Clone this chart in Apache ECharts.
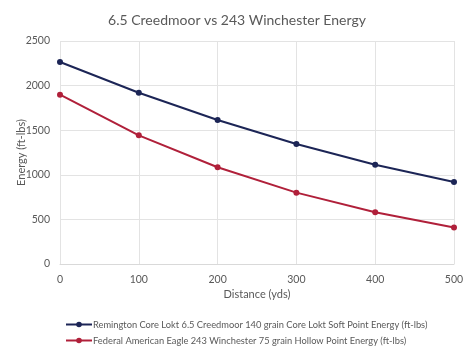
<!DOCTYPE html>
<html>
<head>
<meta charset="utf-8">
<script src="https://cdn.jsdelivr.net/npm/echarts@6/dist/echarts.min.js"></script>
<style>html,body{margin:0;padding:0;background:#fff}#c{width:474px;height:355px}</style>
</head>
<body>
<div id="c"></div>
<script>
const distances = [0, 100, 200, 300, 400, 500];
const remington65 = [2265, 1920, 1615, 1345, 1112, 920];
const federal243 = [1898, 1442, 1085, 800, 580, 408];
const seriesNames = [
  'Remington Core Lokt 6.5 Creedmoor 140 grain Core Lokt Soft Point Energy (ft-lbs)',
  'Federal American Eagle 243 Winchester 75 grain Hollow Point Energy (ft-lbs)'
];
const colors = ['#1c2556', '#b0203a'];
const font = 'Lato';
const chart = echarts.init(document.getElementById('c'));
chart.setOption({
  animation: false,
  backgroundColor: '#fff',
  title: {
    text: '6.5 Creedmoor vs 243 Winchester Energy',
    left: 'center', top: 8,
    textStyle: { fontFamily: font, fontSize: 14, fontWeight: 'normal', color: '#595959' }
  },
  grid: { left: 60, right: 20, top: 41, bottom: 91, outerBoundsMode: 'none', containLabel: false },
  legend: {
    orient: 'vertical', left: 60, top: 315, itemGap: 7,
    itemWidth: 26, itemHeight: 7,
    textStyle: { fontFamily: font, fontSize: 9.3, color: '#595959', padding: [0, 0, 0, -4] },
    data: seriesNames
  },
  xAxis: {
    type: 'value', min: 0, max: 500, interval: 100,
    name: 'Distance (yds)', nameLocation: 'middle', nameGap: 25, nameMoveOverlap: false,
    nameTextStyle: { fontFamily: font, fontSize: 11, color: '#595959' },
    axisLine: { lineStyle: { color: '#d9d9d9' } },
    axisTick: { show: false },
    axisLabel: { fontFamily: font, fontSize: 10.5, color: '#595959', margin: 10 },
    splitLine: { lineStyle: { color: '#e3e3e3' } }
  },
  yAxis: {
    type: 'value', min: 0, max: 2500, interval: 500,
    name: 'Energy (ft-lbs)', nameLocation: 'middle', nameGap: 33, nameMoveOverlap: false,
    nameTextStyle: { fontFamily: font, fontSize: 11, color: '#595959' },
    axisLine: { show: false },
    axisTick: { show: false },
    axisLabel: { fontFamily: font, fontSize: 10.5, color: '#595959', margin: 10, formatter: v => String(v) },
    splitLine: { lineStyle: { color: '#e3e3e3' } }
  },
  series: [
    {
      name: seriesNames[0], type: 'line',
      data: distances.map((d, i) => [d, remington65[i]]),
      color: colors[0], symbol: 'circle', symbolSize: 6,
      lineStyle: { width: 2, color: colors[0] }, itemStyle: { color: colors[0] }
    },
    {
      name: seriesNames[1], type: 'line',
      data: distances.map((d, i) => [d, federal243[i]]),
      color: colors[1], symbol: 'circle', symbolSize: 6,
      lineStyle: { width: 2, color: colors[1] }, itemStyle: { color: colors[1] }
    }
  ]
});
</script>
</body>
</html>
